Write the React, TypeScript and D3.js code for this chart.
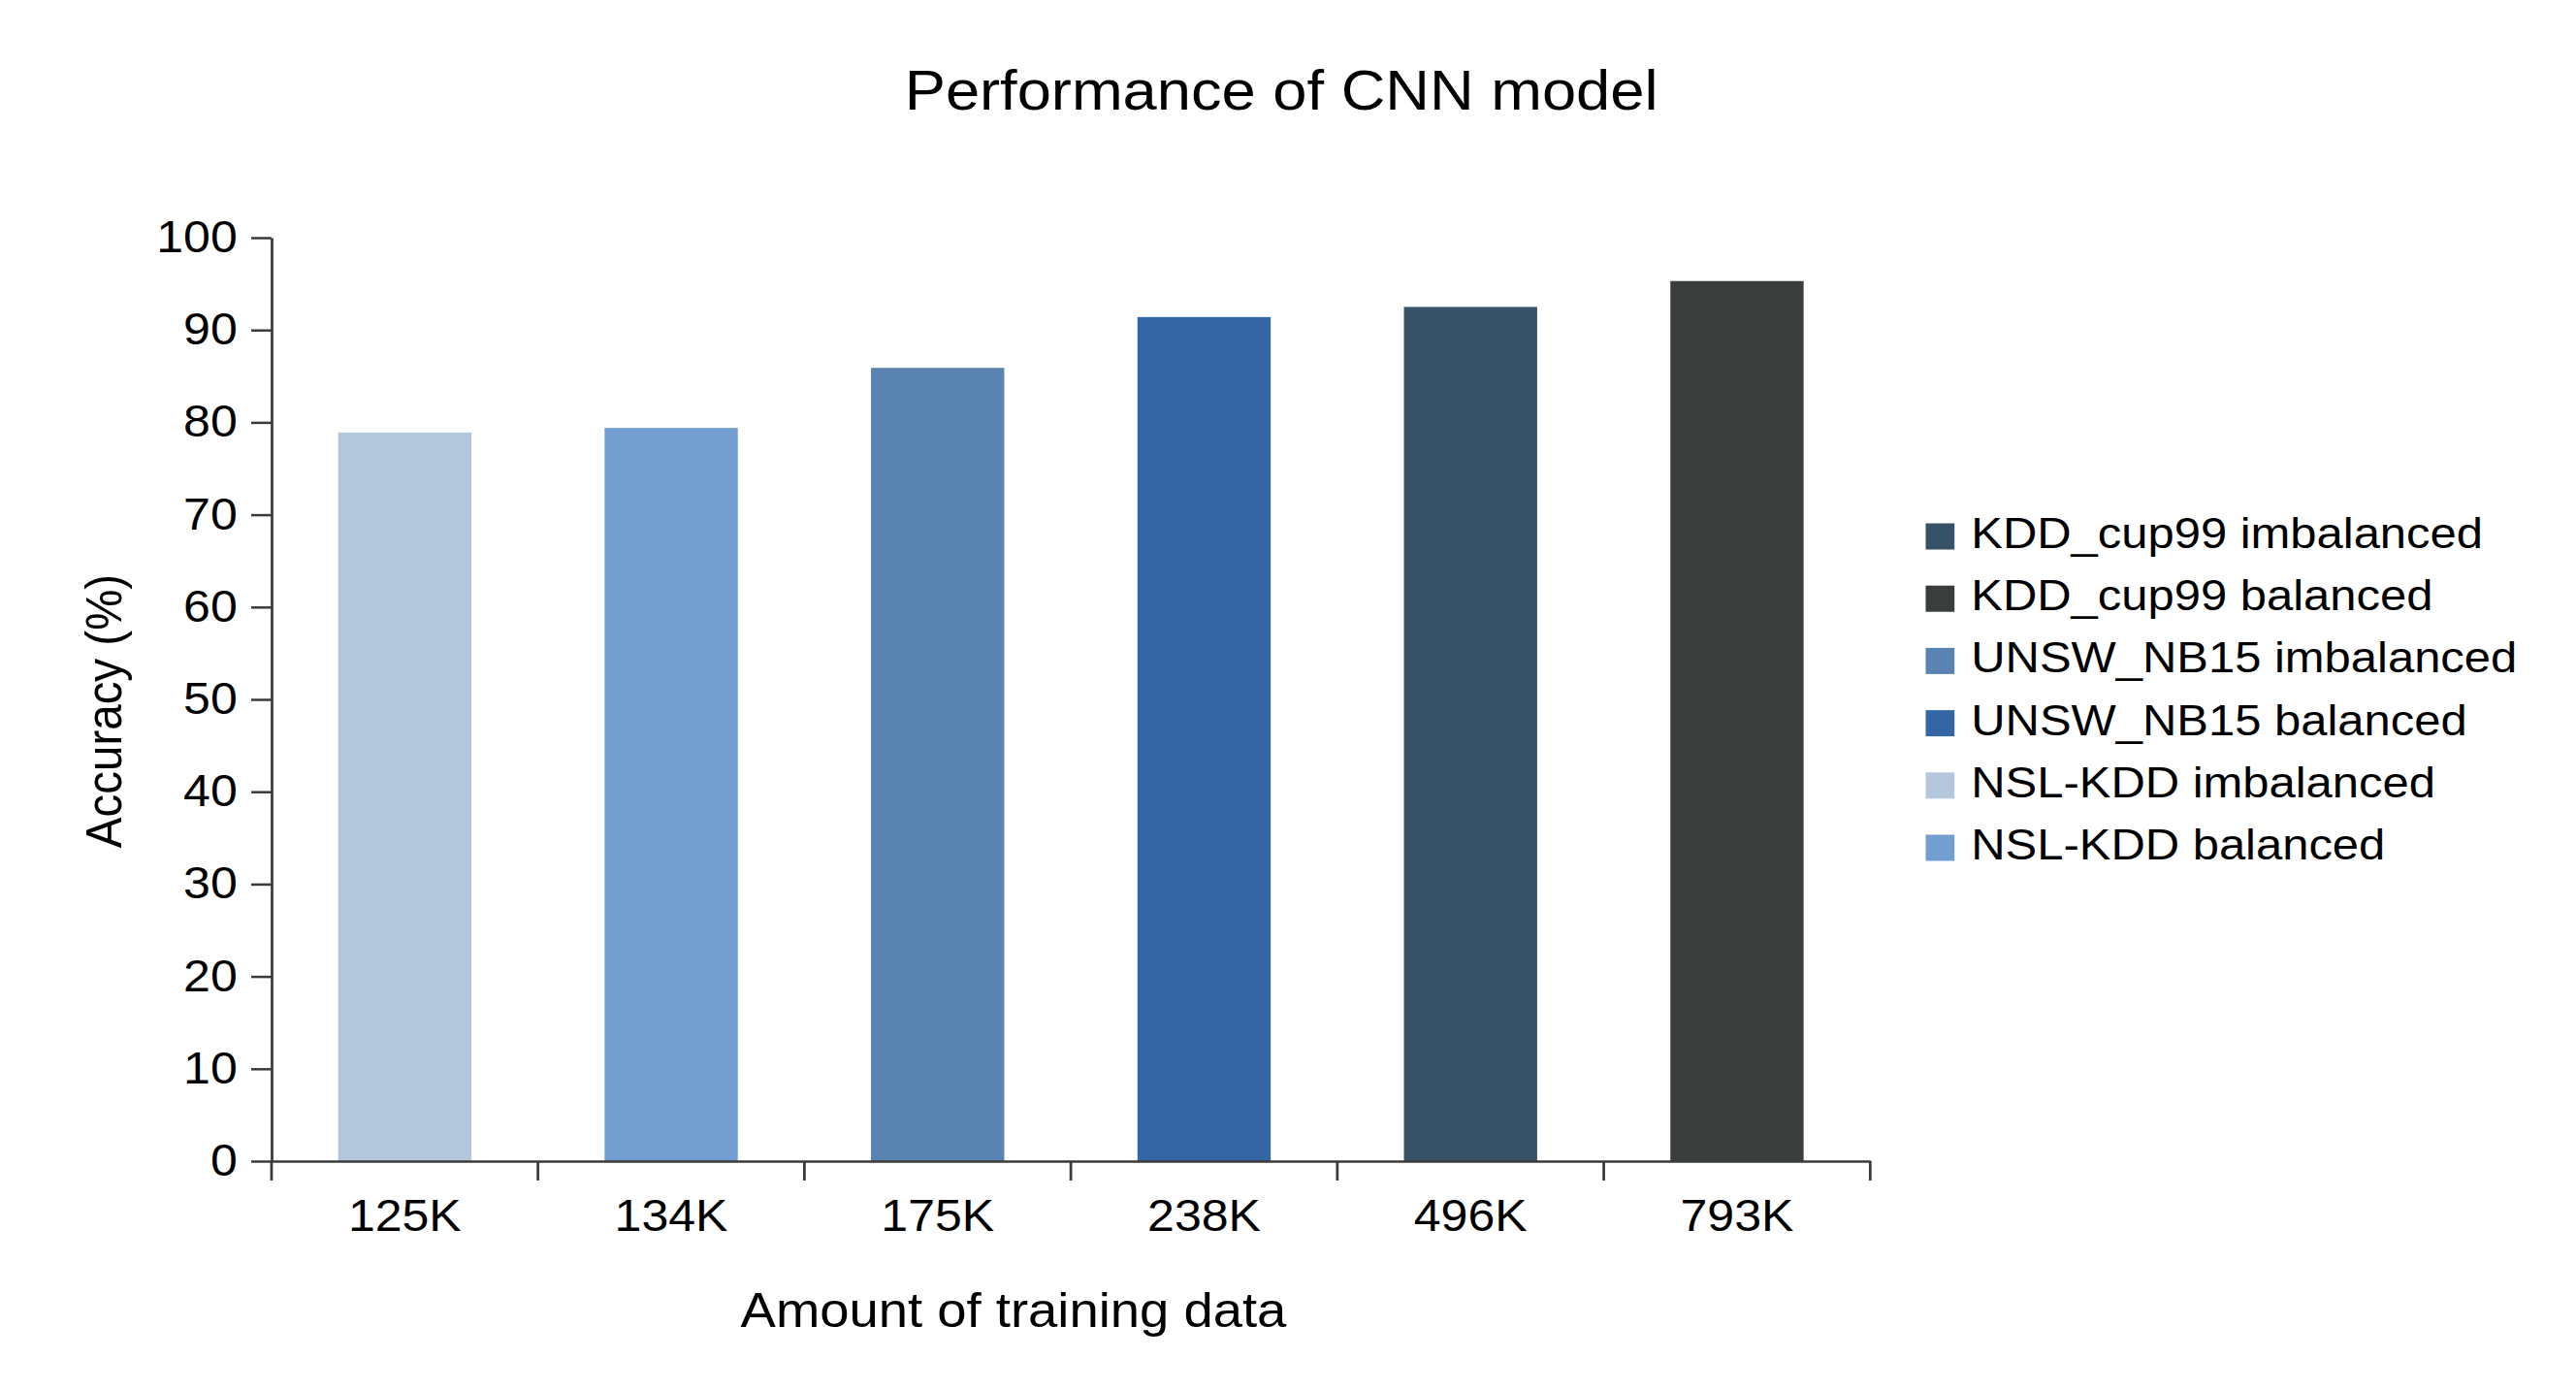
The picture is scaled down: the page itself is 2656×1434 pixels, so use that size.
import { useEffect, useRef } from 'react'
import * as d3 from 'd3'

const categories = ['125K', '134K', '175K', '238K', '496K', '793K']
const accuracy = [78.9, 79.4, 85.9, 91.4, 92.5, 95.3]
const barColors = ['#b4c7dc', '#729fcf', '#5983b0', '#3465a4', '#355269', '#393d3b']
const yTicks = [0, 10, 20, 30, 40, 50, 60, 70, 80, 90, 100]
const legendLabels = [
  'KDD_cup99 imbalanced',
  'KDD_cup99 balanced',
  'UNSW_NB15 imbalanced',
  'UNSW_NB15 balanced',
  'NSL-KDD imbalanced',
  'NSL-KDD balanced',
]
const legendColors = ['#355269', '#393d3b', '#5983b0', '#3465a4', '#b4c7dc', '#729fcf']

export default function App() {
  const svgRef = useRef<SVGSVGElement>(null)

  useEffect(() => {
    if (!svgRef.current) return

    const svg = d3.select(svgRef.current)
    svg.selectAll('*').remove()

    // the original picture is stretched a bit horizontally
    const stretch = 1.1
    const axisColor = '#3a3a3a'

    const root = svg
      .append('g')
      .attr('transform', `scale(${stretch},1)`)
      .attr('font-family', '"Liberation Sans", Arial, sans-serif')

    const x = d3
      .scaleBand()
      .domain(categories)
      .range([254.5, 1753])
      .paddingInner(0.5)
      .paddingOuter(0.25)

    const y = d3.scaleLinear().domain([0, 100]).range([1197, 245])

    // bars
    root
      .selectAll('.bar')
      .data(categories)
      .enter()
      .append('rect')
      .attr('class', 'bar')
      .attr('x', (d) => x(d) || 0)
      .attr('y', (_, i) => y(accuracy[i]))
      .attr('width', x.bandwidth())
      .attr('height', (_, i) => y(0) - y(accuracy[i]))
      .attr('fill', (_, i) => barColors[i])

    // y axis
    const yAxis = root
      .append('g')
      .attr('transform', `translate(${x.range()[0]},0)`)
      .call(d3.axisLeft(y).tickValues(yTicks).tickSize(19).tickSizeOuter(0).tickPadding(13))
    yAxis.select('.domain').attr('stroke', axisColor).attr('stroke-width', 2.5)
    yAxis.selectAll('.tick line').attr('stroke', axisColor).attr('stroke-width', 2.5)
    yAxis.selectAll('.tick text').attr('fill', '#000').attr('font-size', 45.5)

    // x axis: labels at band centres, ticks at band edges
    const xAxis = root
      .append('g')
      .attr('transform', `translate(0,${y(0)})`)
      .call(d3.axisBottom(x).tickSize(0).tickSizeOuter(0).tickPadding(40))
    xAxis.select('.domain').attr('stroke', axisColor).attr('stroke-width', 2.5)
    xAxis.selectAll('.tick text').attr('fill', '#000').attr('font-size', 45.5)

    const edges = d3.range(categories.length + 1).map((i) => x.range()[0] + i * x.step())
    xAxis
      .selectAll('.edge')
      .data(edges)
      .enter()
      .append('line')
      .attr('class', 'edge')
      .attr('x1', (d) => d)
      .attr('x2', (d) => d)
      .attr('y1', 0)
      .attr('y2', 20)
      .attr('stroke', axisColor)
      .attr('stroke-width', 2.5)

    // titles
    root
      .append('text')
      .attr('x', 1201)
      .attr('y', 113)
      .attr('text-anchor', 'middle')
      .attr('font-size', 57.5)
      .attr('fill', '#000')
      .text('Performance of CNN model')

    root
      .append('text')
      .attr('x', 950)
      .attr('y', 1368)
      .attr('text-anchor', 'middle')
      .attr('font-size', 49.5)
      .attr('fill', '#000')
      .text('Amount of training data')

    root
      .append('text')
      .attr('transform', 'translate(113.5,733) rotate(-90)')
      .attr('text-anchor', 'middle')
      .attr('font-size', 47.5)
      .attr('fill', '#000')
      .text('Accuracy (%)')

    // legend
    const row = d3
      .scaleLinear()
      .domain([0, legendLabels.length - 1])
      .range([553, 553 + 64.2 * (legendLabels.length - 1)])

    const legend = root
      .selectAll('.legend')
      .data(legendLabels)
      .enter()
      .append('g')
      .attr('class', 'legend')
      .attr('transform', (_, i) => `translate(1805,${row(i)})`)

    legend
      .append('rect')
      .attr('x', 0)
      .attr('y', -13.5)
      .attr('width', 27)
      .attr('height', 27)
      .attr('fill', (_, i) => legendColors[i])

    legend
      .append('text')
      .attr('x', 42.5)
      .attr('y', 12)
      .attr('font-size', 44.5)
      .attr('fill', '#000')
      .text((d) => d)
  }, [])

  return (
    <svg
      ref={svgRef}
      width={2656}
      height={1434}
      viewBox="0 0 2656 1434"
      style={{ position: 'absolute', left: 0, top: 0, background: '#fff' }}
    />
  )
}
